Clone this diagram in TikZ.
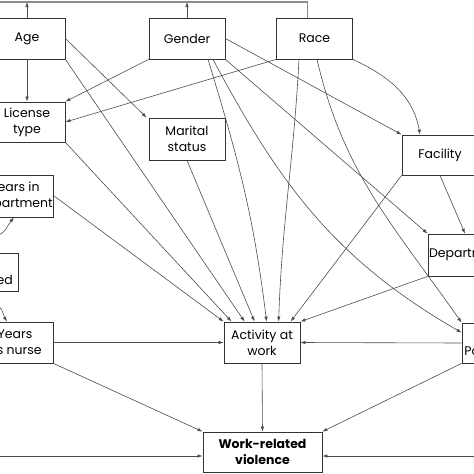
\documentclass[tikz,border=0pt]{standalone}
\usepackage{fontspec}
\setmainfont{Poppins}
\usetikzlibrary{arrows.meta}
\begin{document}
\begin{tikzpicture}[x=1pt, y=1pt,
    box/.style={draw=black!80, line width=0.8pt, minimum width=76pt, minimum height=41pt,
      align=center, inner sep=1pt, font=\fontsize{12.5}{16}\selectfont},
    arr/.style={draw=black!70, line width=0.6pt, -{Latex[length=5pt,width=3.5pt]}}]
	\useasboundingbox (0,0) rectangle (474,-474);
	\clip (0,0) rectangle (474,-474);
	\node[box] (age) at (27,-38.5) {Age};
	\node[box] (gender) at (187,-38.5) {Gender};
	\node[box] (race) at (314.5,-38.5) {Race};
	\node[box, minimum height=40pt] (lic) at (27,-122) {License\\type};
	\node[box, minimum height=42pt] (mar) at (187,-139) {Marital\\status};
	\node[box, minimum height=40pt] (fac) at (440,-155) {Facility};
	\node[box, minimum width=78pt, minimum height=42pt] (dept) at (467,-255) {Department};
	\node[box, minimum width=80pt, minimum height=40pt] (pat) at (502,-343) {Type of\\Patient care};
	\node[box, minimum height=42pt] (ydept) at (15,-196) {Years in\\department};
	\node[box, minimum height=38pt] (hrs) at (-20,-272) {Hours\\scheduled};
	\node[box] (ynurse) at (15,-342.5) {Years\\as nurse};
	\node[box] (act) at (262,-342.5) {Activity at\\work};
	\node[box, minimum width=119pt, minimum height=40pt,
	  font=\fontsize{12.5}{16}\selectfont\bfseries] (wrv) at (262.5,-452) {Work-related\\violence};
	% line along the top
	\coordinate (topl) at (-5,-2);
	\coordinate (rtop) at ([xshift=-7]race.north);
	\draw[black!45, line width=0.7pt] (rtop) -- (rtop |- topl);
	\draw[black!45, line width=1.6pt] (topl) -- (rtop |- topl);
	\draw[arr] (age.north) -- (age.north |- topl);
	\draw[arr] (gender.north) -- (gender.north |- topl);
	% demographics
	\draw[arr] (age.south) -- (lic.north);
	\draw[arr] (age.east) -- ([xshift=-2]mar.north west);
	\draw[arr] (gender.south west) -- (lic.north east);
	\draw[arr] (race.south west) -- (lic.east);
	\draw[arr] (gender.east) -- (fac.north west);
	\draw[arr] (race.south east) to[out=-25, in=100] ([xshift=-20]fac.north);
	\draw[arr] (gender.south east) -- (dept.north west);
	\draw[arr] (fac.south) -- ([xshift=-2]dept.north);
	% into activity at work
	\draw[arr] (ydept.east) -- (act.north west);
	\draw[arr] (lic.south east) -- ([xshift=8]act.north west);
	\draw[arr] (age.south east) -- ([xshift=21]act.north west);
	\draw[arr] (mar.south) -- ([xshift=31]act.north west);
	\draw[arr] ([xshift=21]gender.south) to[out=-73, in=97] ([xshift=43]act.north west);
	\draw[arr] ([xshift=-15.5]race.south) to[out=-93, in=88] ([xshift=55]act.north west);
	\draw[arr] (fac.south west) -- ([xshift=67]act.north west);
	\draw[arr] (dept.south west) -- (act.north east);
	\draw[arr] (ynurse.east) -- (act.west);
	\draw[arr] (pat.west) -- (act.east);
	% into the patient box
	\draw[arr] ([xshift=26]gender.south) to[out=-62, in=150] ([yshift=-10]pat.north west);
	\draw[arr] ([xshift=2.5]race.south) to[out=-77, in=125] (pat.north west);
	% outcome
	\draw[arr] (ynurse.south east) -- (wrv.north west);
	\draw[arr] (act.south) -- (wrv.north);
	\draw[arr] (pat.south west) -- (wrv.north east);
	\coordinate (wl) at (-5,-456);
	\coordinate (wr) at (480,-456);
	\draw[arr] (wl) -- (wl -| wrv.west);
	\draw[arr] (wr) -- (wr -| wrv.east);
	% short ones on the left
	\coordinate (yd0) at (-4,-236);
	\draw[arr] (yd0) to[out=15, in=-130] ([xshift=-1]ydept.south);
	\coordinate (yn0) at (-6,-305);
	\draw[arr] (yn0) to[out=5, in=120] ([xshift=-8]ynurse.north);
\end{tikzpicture}
\end{document}
